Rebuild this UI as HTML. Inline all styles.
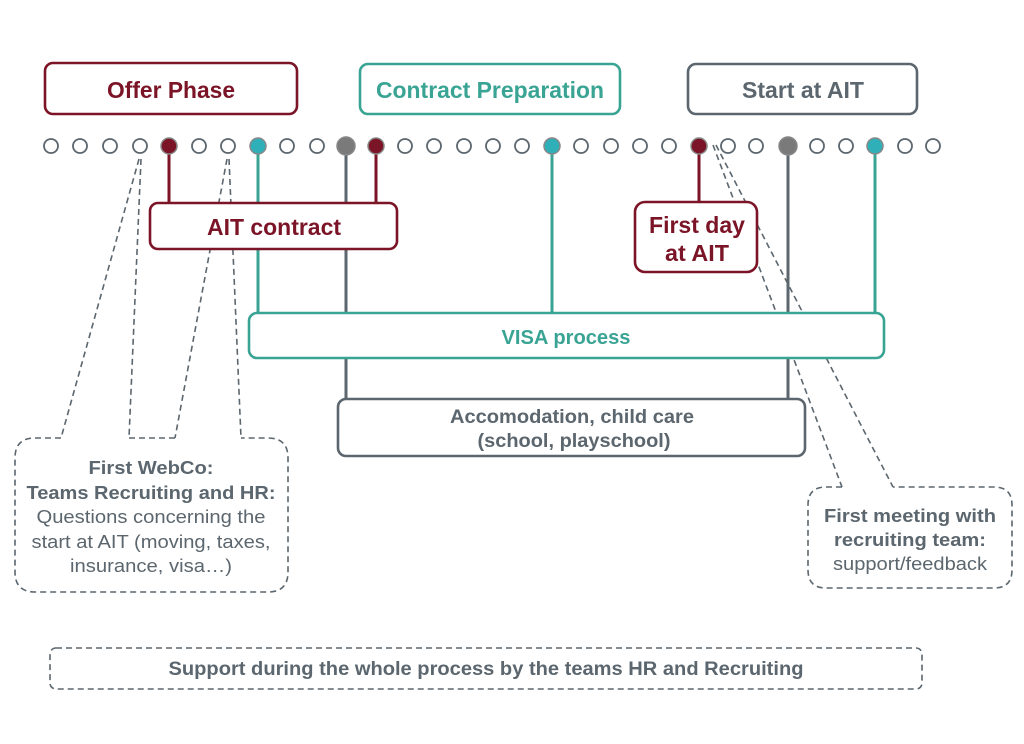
<!DOCTYPE html>
<html><head><meta charset="utf-8"><style>
html,body{margin:0;padding:0;background:#fff;}
svg{display:block;font-family:"Liberation Sans",Arial,sans-serif;}
</style></head><body>
<svg width="1024" height="744" viewBox="0 0 1024 744" xmlns="http://www.w3.org/2000/svg">
<g fill="none" stroke-width="3">
<line x1="169" y1="146" x2="169" y2="204" stroke="#7b1426"/>
<line x1="376" y1="146" x2="376" y2="204" stroke="#7b1426"/>
<line x1="699" y1="146" x2="699" y2="203" stroke="#7b1426"/>
<line x1="258" y1="146" x2="258" y2="314" stroke="#3aa494"/>
<line x1="552" y1="146" x2="552" y2="314" stroke="#3aa494"/>
<line x1="875" y1="146" x2="875" y2="314" stroke="#3aa494"/>
<line x1="346" y1="146" x2="346" y2="400" stroke="#5b666e"/>
<line x1="788" y1="146" x2="788" y2="400" stroke="#5b666e"/>
</g>
<g fill="none" stroke="#5b666e" stroke-width="1.6" stroke-dasharray="6,4">
<line x1="139" y1="159" x2="61" y2="438"/>
<line x1="141" y1="159" x2="129" y2="438"/>
<line x1="227" y1="159" x2="175" y2="438"/>
<line x1="229" y1="159" x2="241" y2="438"/>
<line x1="713" y1="145" x2="842" y2="487"/>
<line x1="716" y1="145" x2="893" y2="487"/>
<path d="M61 438 L35 438 Q15 438 15 458 L15 572 Q15 592 35 592 L268 592 Q288 592 288 572 L288 458 Q288 438 268 438 L241 438"/>
<line x1="129" y1="438" x2="175" y2="438"/>
<path d="M842 487 L826 487 Q808 487 808 505 L808 570 Q808 588 826 588 L994 588 Q1012 588 1012 570 L1012 505 Q1012 487 994 487 L893 487"/>
<rect x="50" y="648" width="872" height="41" rx="6"/>
</g>
<g fill="#fff" stroke-width="2.6">
<rect x="45" y="63" width="252" height="51" rx="8" stroke="#7b1426"/>
<rect x="360" y="64" width="260" height="50" rx="8" stroke="#3aa494"/>
<rect x="688" y="64" width="229" height="50" rx="8" stroke="#5b666e"/>
<rect x="150" y="203" width="247" height="46" rx="8" stroke="#7b1426"/>
<rect x="635" y="202" width="122" height="70" rx="10" stroke="#7b1426"/>
<rect x="249" y="313" width="635" height="45" rx="8" stroke="#3aa494"/>
<rect x="338" y="399" width="467" height="57" rx="8" stroke="#5b666e"/>
</g>
<g stroke="#5b666e" stroke-width="1.8" fill="#fff">
<circle cx="51" cy="146" r="7"/><circle cx="80" cy="146" r="7"/><circle cx="110" cy="146" r="7"/><circle cx="140" cy="146" r="7"/>
<circle cx="199" cy="146" r="7"/><circle cx="228" cy="146" r="7"/><circle cx="287" cy="146" r="7"/><circle cx="317" cy="146" r="7"/>
<circle cx="405" cy="146" r="7"/><circle cx="434" cy="146" r="7"/><circle cx="464" cy="146" r="7"/><circle cx="493" cy="146" r="7"/><circle cx="522" cy="146" r="7"/>
<circle cx="581" cy="146" r="7"/><circle cx="611" cy="146" r="7"/><circle cx="640" cy="146" r="7"/><circle cx="669" cy="146" r="7"/>
<circle cx="728" cy="146" r="7"/><circle cx="756" cy="146" r="7"/><circle cx="817" cy="146" r="7"/><circle cx="846" cy="146" r="7"/><circle cx="905" cy="146" r="7"/><circle cx="933" cy="146" r="7"/>
</g>
<g stroke-width="1.5" stroke="#888">
<circle cx="169" cy="146" r="8" fill="#7b1426"/><circle cx="376" cy="146" r="8" fill="#7b1426"/><circle cx="699" cy="146" r="8" fill="#7b1426"/>
<circle cx="258" cy="146" r="8" fill="#2fb0b8"/><circle cx="552" cy="146" r="8" fill="#2fb0b8"/><circle cx="875" cy="146" r="8" fill="#2fb0b8"/>
<circle cx="346" cy="146" r="9" fill="#7a7a7a"/><circle cx="788" cy="146" r="9" fill="#7a7a7a"/>
</g>
<g font-weight="bold" text-anchor="middle">
<text x="171" y="98" font-size="23" fill="#7b1426" textLength="128" lengthAdjust="spacingAndGlyphs">Offer Phase</text>
<text x="490" y="98" font-size="23" fill="#3aa494" textLength="228" lengthAdjust="spacingAndGlyphs">Contract Preparation</text>
<text x="803" y="98" font-size="23" fill="#5b666e" textLength="122" lengthAdjust="spacingAndGlyphs">Start at AIT</text>
<text x="274" y="235" font-size="23" fill="#7b1426" textLength="134" lengthAdjust="spacingAndGlyphs">AIT contract</text>
<text x="697" y="233" font-size="23" fill="#7b1426" textLength="96" lengthAdjust="spacingAndGlyphs">First day</text>
<text x="697" y="261" font-size="23" fill="#7b1426" textLength="64" lengthAdjust="spacingAndGlyphs">at AIT</text>
<text x="566" y="344" font-size="20" fill="#3aa494" textLength="129" lengthAdjust="spacingAndGlyphs">VISA process</text>
<text x="572" y="423" font-size="19" fill="#5b666e" textLength="244" lengthAdjust="spacingAndGlyphs">Accomodation, child care</text>
<text x="574" y="447" font-size="19" fill="#5b666e" textLength="193" lengthAdjust="spacingAndGlyphs">(school, playschool)</text>
<text x="151" y="474" font-size="18" fill="#5b666e" textLength="125" lengthAdjust="spacingAndGlyphs">First WebCo:</text>
<text x="151" y="499" font-size="18" fill="#5b666e" textLength="249" lengthAdjust="spacingAndGlyphs">Teams Recruiting and HR:</text>
<text x="910" y="522" font-size="18" fill="#5b666e" textLength="172" lengthAdjust="spacingAndGlyphs">First meeting with</text>
<text x="910" y="546" font-size="18" fill="#5b666e" textLength="152" lengthAdjust="spacingAndGlyphs">recruiting team:</text>
<text x="486" y="675" font-size="19" fill="#5b666e" textLength="635" lengthAdjust="spacingAndGlyphs">Support during the whole process by the teams HR and Recruiting</text>
</g>
<g text-anchor="middle" font-size="18" fill="#5b666e">
<text x="151" y="523" textLength="229" lengthAdjust="spacingAndGlyphs">Questions concerning the</text>
<text x="151" y="548" textLength="239" lengthAdjust="spacingAndGlyphs">start at AIT (moving, taxes,</text>
<text x="151" y="572" textLength="162" lengthAdjust="spacingAndGlyphs">insurance, visa…)</text>
<text x="910" y="570" textLength="154" lengthAdjust="spacingAndGlyphs">support/feedback</text>
</g>
</svg>
</body></html>
